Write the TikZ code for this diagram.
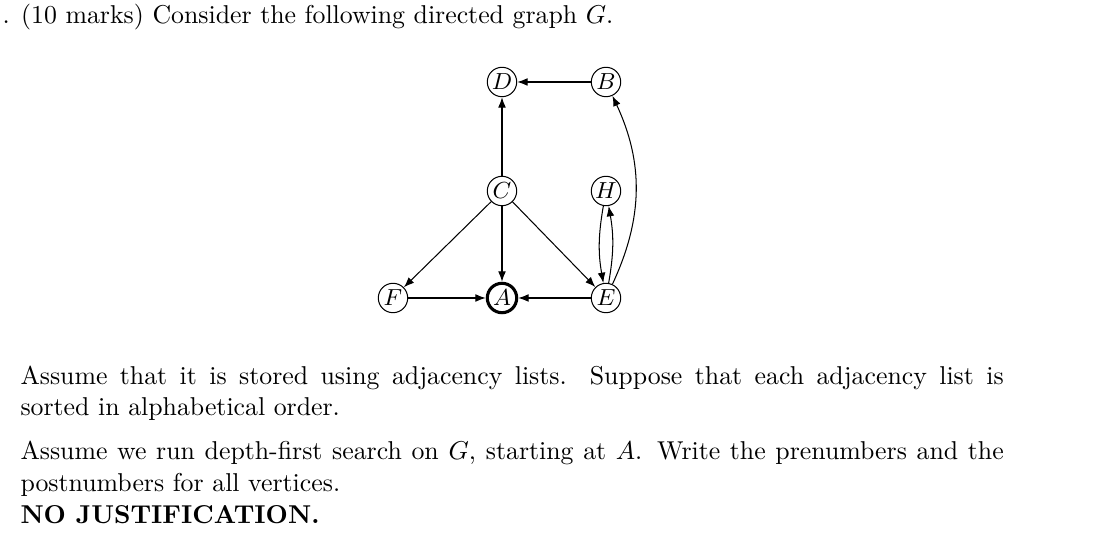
\documentclass[tikz,border=0pt]{standalone}
\usetikzlibrary{arrows.meta}
\begin{document}
\begin{tikzpicture}[x=0.3875pt,y=-0.3875pt,
  vx/.style={circle,draw,inner sep=0pt,minimum size=11.4pt,font=\small},
  ed/.style={-{Latex[length=4pt,width=3pt]},line width=0.4pt},
  ln/.style={anchor=base west,inner sep=0pt}]
\useasboundingbox (0,0) rectangle (1096,533);
\node[ln] (t0) at (2,24) {. (10 marks) Consider the following directed graph $G$.};
\node[vx] (D) at (502,82) {$D$};
\node[vx] (B) at (606,82) {$B$};
\node[vx] (C) at (502,191) {$C$};
\node[vx] (H) at (606,191) {$H$};
\node[vx] (F) at (393,298) {$F$};
\node[vx,line width=1.2pt] (A) at (502,298) {$A$};
\node[vx] (E) at (606,298) {$E$};
\draw[ed] (B) -- (D);
\draw[ed] (C) -- (D);
\draw[ed] (C) -- (F);
\draw[ed] (C) -- (A);
\draw[ed] (C) -- (E);
\draw[ed] (F) -- (A);
\draw[ed] (E) -- (A);
\draw[ed] (H) to[bend right=10] (E);
\draw[ed] (E) to[bend right=10] (H);
\draw[ed] (E) to[bend right=25] (B);
\node[ln] (p1) at (20,385) {\hbox to 381pt{Assume that it is stored using adjacency lists. Suppose that each adjacency list is}};
\node[ln] (p2) at (20,416) {sorted in alphabetical order.};
\node[ln] (p3) at (20,460) {\hbox to 381pt{Assume we run depth-first search on $G$, starting at $A$. Write the prenumbers and the}};
\node[ln] (p4) at (20,492) {postnumbers for all vertices.};
\node[ln] (p5) at (20,524) {\textbf{NO JUSTIFICATION.}};
\end{tikzpicture}
\end{document}
